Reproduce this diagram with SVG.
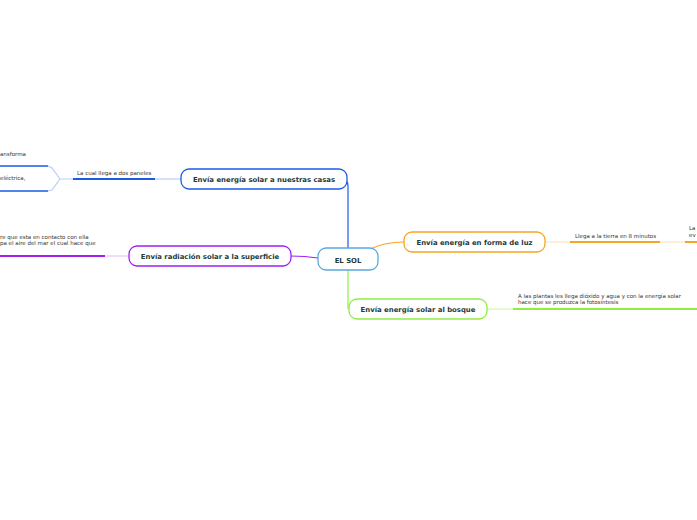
<svg xmlns="http://www.w3.org/2000/svg" width="697" height="520" viewBox="0 0 697 520">
<style>
.n{fill:#fff;stroke-width:1.3}
.t{font-family:"DejaVu Sans",Verdana,sans-serif;font-size:6.9px;font-weight:bold;fill:#1e3a3a;text-anchor:middle}
.s{font-family:"DejaVu Sans",Verdana,sans-serif;font-size:5.5px;fill:#333}
.c{fill:none;stroke-width:1.2}
</style>
<rect width="697" height="520" fill="#fff"/>
<g id="connectors">
<path class="c" stroke="#1a5ce6" d="M348,250 V186 Q348,179 341,179"/>
<path class="c" stroke="#a020f0" d="M318,258 Q305,256 291,256"/>
<path class="c" stroke="#f5a623" d="M370,249 Q385,242 404,242"/>
<path class="c" stroke="#90ee40" d="M348,270 V309"/>
<path class="c" stroke="#b8cdf5" d="M181,179 H155"/>
<path stroke="#1a5ce6" stroke-width="1.8" d="M155,179 H73"/>
<path class="c" stroke="#b8cdf5" d="M73,179 L60,179 L52,168 L48,166 M60,179 L52,190 L48,191"/>
<path stroke="#1a5ce6" stroke-width="1.3" d="M0,166 H48 M0,191 H48"/>
<path class="c" stroke="#e5c7f7" d="M129,256 H105"/>
<path stroke="#a020f0" stroke-width="1.8" d="M105,256 H0"/>
<path class="c" stroke="#fbe0b5" d="M545,242 H570 M660,242 H685"/>
<path stroke="#f5a623" stroke-width="1.8" d="M570,242 H660 M685,242 H697"/>
<path class="c" stroke="#d6f7b5" d="M487,309 H513"/>
<path stroke="#90ee40" stroke-width="1.8" d="M513,309 H697"/>
</g>
<g id="center"><rect class="n" stroke="#5aa8e0" x="318" y="248" width="60" height="22" rx="8"/><text class="t" x="348" y="262.5" font-size="8.5">EL SOL</text></g>
<g id="n1"><rect class="n" stroke="#1a5ce6" x="181" y="169" width="166" height="20" rx="8"/><text class="t" x="264" y="181.5">Envía energía solar a nuestras casas</text></g>
<g id="n2"><rect class="n" stroke="#a020f0" x="129" y="246" width="162" height="20" rx="8"/><text class="t" x="210" y="258.5">Envía radiación solar a la superficie</text></g>
<g id="n3"><rect class="n" stroke="#f5a623" x="404" y="232" width="141" height="20" rx="8"/><text class="t" x="474.5" y="244.5">Envía energía en forma de luz</text></g>
<g id="n4"><rect class="n" stroke="#90ee40" x="349" y="299" width="138" height="20" rx="8"/><text class="t" x="418" y="311.5">Envía energía solar al bosque</text></g>
<g id="labels">
<text class="s" x="77" y="175">La cual llega a dos paneles</text>
<text class="s" x="0" y="156">ansforma</text>
<text class="s" x="0" y="180">eléctrica,</text>
<text class="s" x="0" y="239">re que esta en contacto con ella</text>
<text class="s" x="0" y="245">pa el aire del mar el cual hace que</text>
<text class="s" x="575" y="238">Llega a la tierra en 8 minutos</text>
<text class="s" x="689" y="230">La</text>
<text class="s" x="689" y="237">ev</text>
<text class="s" x="518" y="298">A las plantas les llega dióxido y agua y con la energía solar</text>
<text class="s" x="518" y="304">hace que se produzca la fotosíntesis</text>
</g>
</svg>
